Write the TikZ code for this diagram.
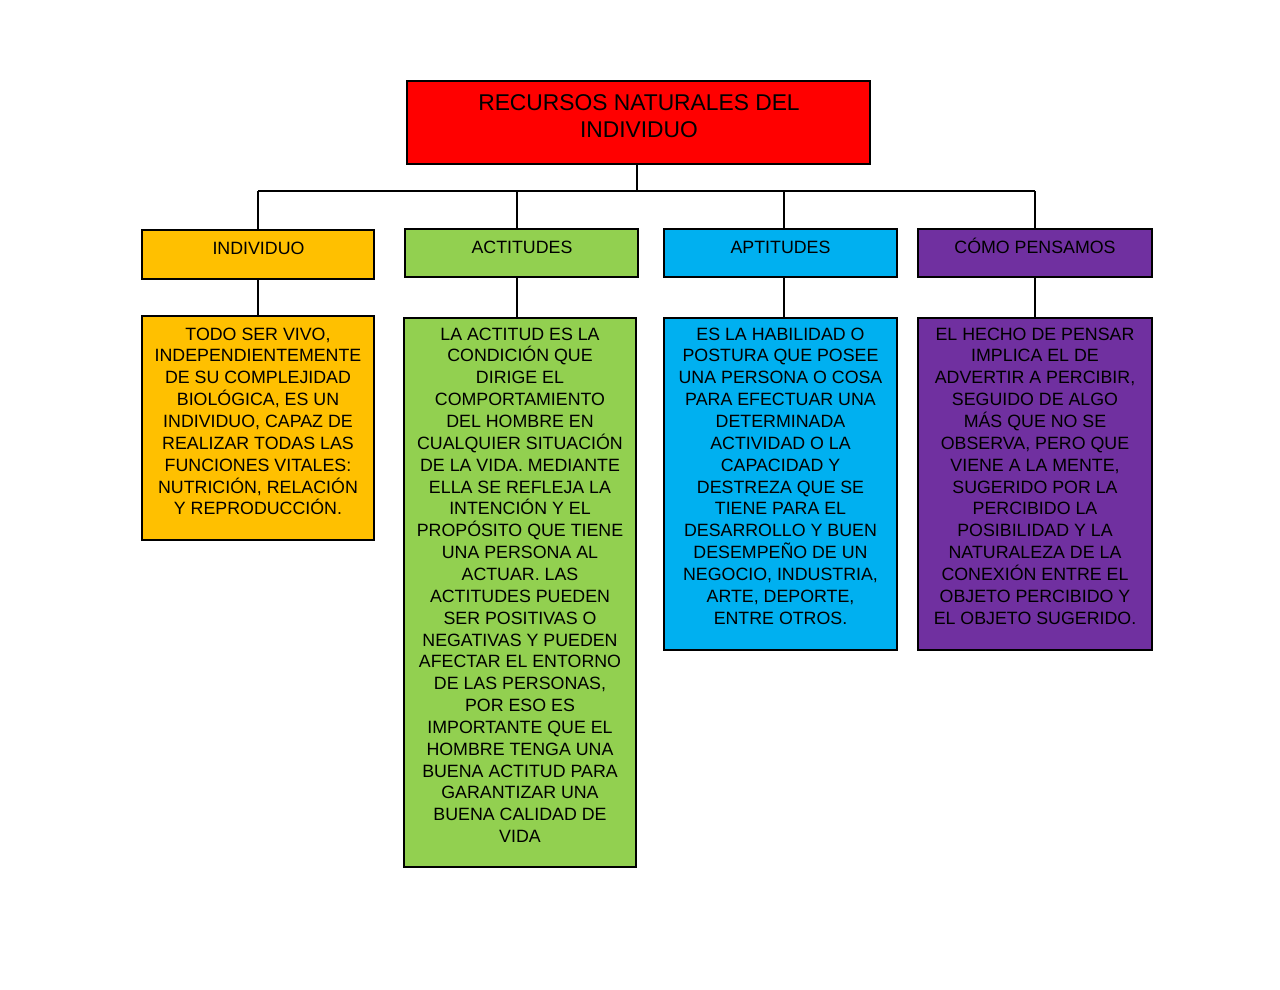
\documentclass[tikz,border=0pt]{standalone}
\usepackage{fontspec}
\setmainfont{Liberation Sans}
\definecolor{cred}{HTML}{FF0000}
\definecolor{cyel}{HTML}{FFC000}
\definecolor{cgrn}{HTML}{92D050}
\definecolor{cblu}{HTML}{00B0F0}
\definecolor{cpur}{HTML}{7030A0}
\tikzset{
  box/.style={draw=black, line width=2pt, rectangle, inner sep=0pt, outer sep=0pt, anchor=north west},
  txt/.style={inner sep=0pt, align=center, anchor=north, font=\fontsize{17.8}{21.85}\selectfont},
  head/.style={inner sep=0pt, anchor=base, font=\fontsize{17.8}{21.85}\selectfont},
  conn/.style={draw=black, line width=2pt},
}
\begin{document}
\begin{tikzpicture}[x=1pt,y=-1pt]
\useasboundingbox (0,0) rectangle (1280,989);
% title
\node[box, fill=cred, minimum width=463, minimum height=83] (title) at (407,81) {};
\node[txt, font=\fontsize{22.8}{27}\selectfont] (titletxt) at (639,94.5) {RECURSOS NATURALES DEL\\INDIVIDUO};
% headers
\node[box, fill=cyel, minimum width=232, minimum height=49] (h1) at (142,230) {};
\node[box, fill=cgrn, minimum width=233, minimum height=48] (h2) at (405,229) {};
\node[box, fill=cblu, minimum width=233, minimum height=48] (h3) at (664,229) {};
\node[box, fill=cpur, minimum width=234, minimum height=48] (h4) at (918,229) {};
\node[head] (h1t) at (258.5,254) {INDIVIDUO};
\node[head] (h2t) at (522,253) {ACTITUDES};
\node[head] (h3t) at (780.5,253) {APTITUDES};
\node[head] (h4t) at (1035,253) {CÓMO PENSAMOS};
% bodies
\node[box, fill=cyel, minimum width=232, minimum height=224] (b1) at (142,316) {};
\node[box, fill=cgrn, minimum width=232, minimum height=549] (b2) at (404,318) {};
\node[box, fill=cblu, minimum width=233, minimum height=332] (b3) at (664,318) {};
\node[box, fill=cpur, minimum width=234, minimum height=332] (b4) at (918,318) {};
\node[txt] (b1t) at (258,327.5) {TODO SER VIVO,\\INDEPENDIENTEMENTE\\DE SU COMPLEJIDAD\\BIOLÓGICA, ES UN\\INDIVIDUO, CAPAZ DE\\REALIZAR TODAS LAS\\FUNCIONES VITALES:\\NUTRICIÓN, RELACIÓN\\Y REPRODUCCIÓN.};
\node[txt] (b2t) at (520,327.5) {LA ACTITUD ES LA\\CONDICIÓN QUE\\DIRIGE EL\\COMPORTAMIENTO\\DEL HOMBRE EN\\CUALQUIER SITUACIÓN\\DE LA VIDA. MEDIANTE\\ELLA SE REFLEJA LA\\INTENCIÓN Y EL\\PROPÓSITO QUE TIENE\\UNA PERSONA AL\\ACTUAR. LAS\\ACTITUDES PUEDEN\\SER POSITIVAS O\\NEGATIVAS Y PUEDEN\\AFECTAR EL ENTORNO\\DE LAS PERSONAS,\\POR ESO ES\\IMPORTANTE QUE EL\\HOMBRE TENGA UNA\\BUENA ACTITUD PARA\\GARANTIZAR UNA\\BUENA CALIDAD DE\\VIDA};
\node[txt] (b3t) at (780.5,327.5) {ES LA HABILIDAD O\\POSTURA QUE POSEE\\UNA PERSONA O COSA\\PARA EFECTUAR UNA\\DETERMINADA\\ACTIVIDAD O LA\\CAPACIDAD Y\\DESTREZA QUE SE\\TIENE PARA EL\\DESARROLLO Y BUEN\\DESEMPEÑO DE UN\\NEGOCIO, INDUSTRIA,\\ARTE, DEPORTE,\\ENTRE OTROS.};
\node[txt] (b4t) at (1035,327.5) {EL HECHO DE PENSAR\\IMPLICA EL DE\\ADVERTIR A PERCIBIR,\\SEGUIDO DE ALGO\\MÁS QUE NO SE\\OBSERVA, PERO QUE\\VIENE A LA MENTE,\\SUGERIDO POR LA\\PERCIBIDO LA\\POSIBILIDAD Y LA\\NATURALEZA DE LA\\CONEXIÓN ENTRE EL\\OBJETO PERCIBIDO Y\\EL OBJETO SUGERIDO.};
% connectors
\coordinate (bus) at (637,191);
\draw[conn] (title.south -| bus) -- (bus);
\draw[conn] (bus -| h1.north) -- (bus -| h4.north);
\draw[conn] (bus -| h1.north) -- (h1.north);
\draw[conn] ([xshift=-4.5pt]bus -| h2.north) -- ([xshift=-4.5pt]h2.north);
\draw[conn] ([xshift=3.5pt]bus -| h3.north) -- ([xshift=3.5pt]h3.north);
\draw[conn] (bus -| h4.north) -- (h4.north);
\draw[conn] (h1.south) -- (h1.south |- b1.north);
\draw[conn] ([xshift=-4.5pt]h2.south) -- ([xshift=-4.5pt]h2.south |- b2.north);
\draw[conn] ([xshift=3.5pt]h3.south) -- ([xshift=3.5pt]h3.south |- b3.north);
\draw[conn] (h4.south) -- (h4.south |- b4.north);
\end{tikzpicture}
\end{document}
